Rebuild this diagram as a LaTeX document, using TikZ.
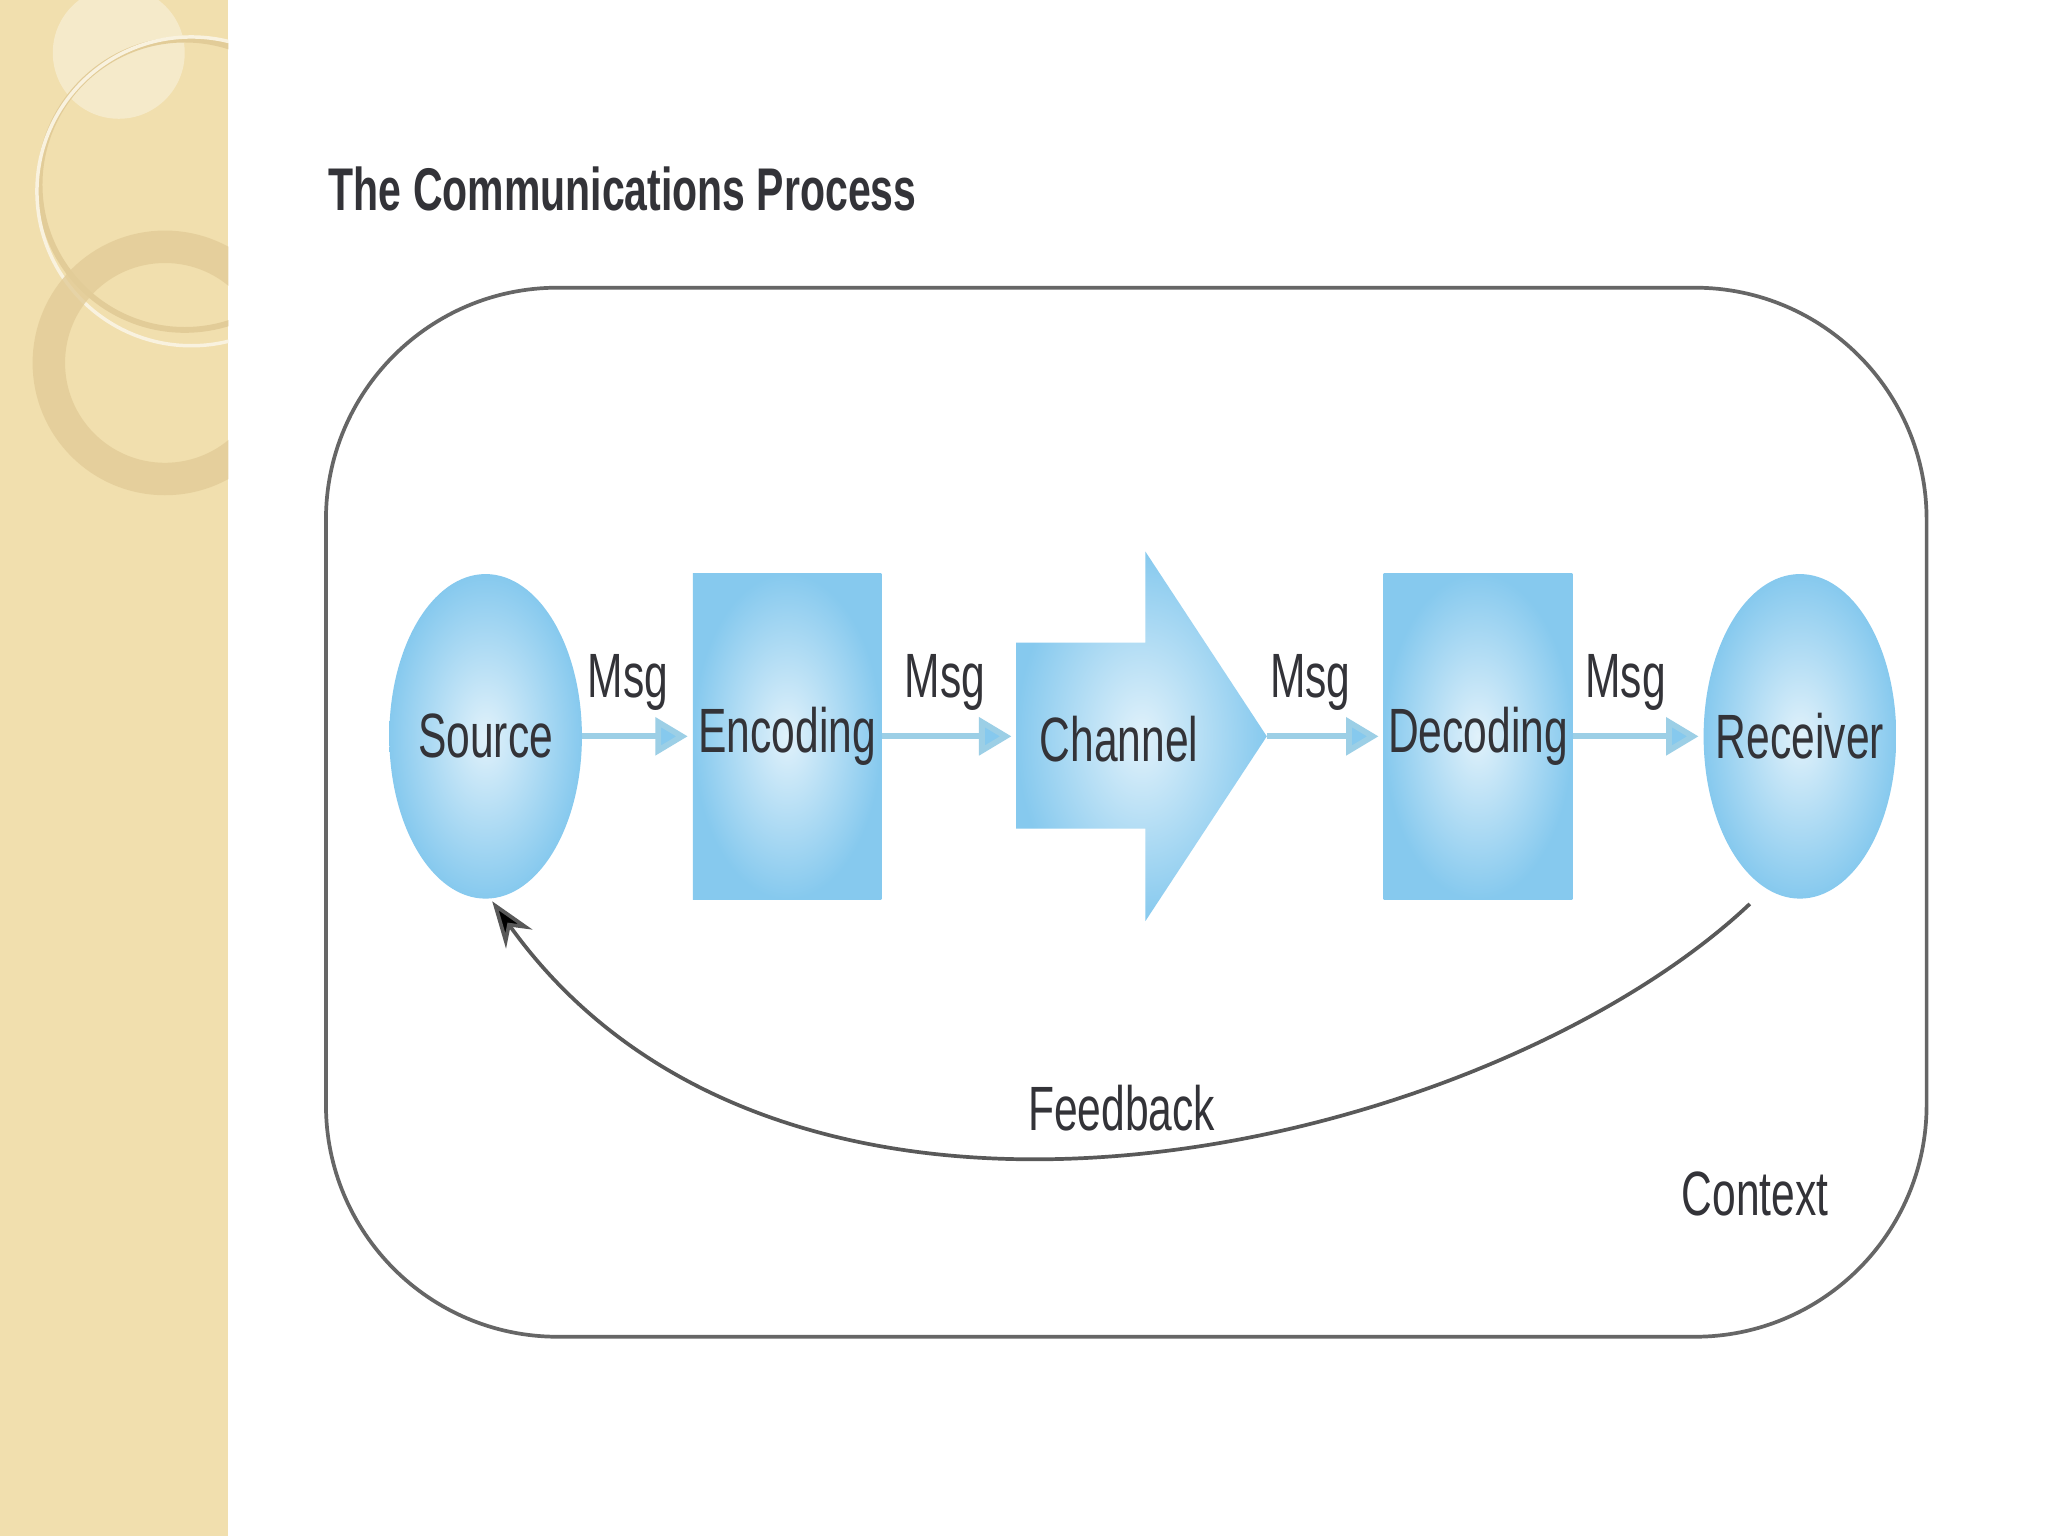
\documentclass[tikz,border=0pt]{standalone}
\usepackage{fontspec}
\setmainfont{Liberation Sans}
\newfontfamily\cond[FakeStretch=0.68]{Liberation Sans}
\usetikzlibrary{shapes.geometric,arrows.meta}
\definecolor{beige}{HTML}{F1DFAE}
\definecolor{ringc}{HTML}{E2CC98}
\definecolor{bl}{HTML}{86C9EE}
\definecolor{ln}{HTML}{9CCFE6}
\definecolor{txt}{HTML}{333338}
\tikzset{
  lbl/.style={font=\cond\fontsize{27}{30}\selectfont, text=txt},
  ball/.style={ellipse, minimum width=2.92cm, minimum height=4.92cm, inner color=white!75!bl, outer color=bl},
  boxs/.style={rectangle, minimum width=2.86cm, minimum height=4.94cm, inner color=white!75!bl, outer color=bl},
  msg/.style={draw=ln, line width=2.5pt, -{Triangle[length=14pt,width=16pt,fill=bl]}, shorten >=2pt},
}
\begin{document}
\begin{tikzpicture}[x=0.02cm,y=-0.02cm]
\useasboundingbox (0,0) rectangle (1552,1164);
\fill[white] (0,0) rectangle (1552,1164);
% left strip
\fill[beige] (0,0) rectangle (173,1164);
\begin{scope}
\clip (0,0) rectangle (173,1164);
\fill[white,opacity=0.35] (90,40) circle (50);
\draw[ringc,line width=2.5pt] (140,140) circle (110);
\draw[white!60!beige,line width=1.5pt] (145,145) circle (117);
\draw[ringc,line width=14pt,opacity=0.8] (125,275) circle (88);
\end{scope}
% title
\node[anchor=west, font=\cond\bfseries\fontsize{26}{30}\selectfont, text=txt] (title) at (243,143) {The Communications Process};
% context frame
\draw[gray!80!black, line width=1.6pt, rounded corners=100] (247,218) rectangle (1460,1013);
% nodes
\node[ball] (src) at (368,558) {};
\node[lbl] at (src) {Source};
\node[boxs] (enc) at (596.5,558) {};
\node[lbl] at (enc) {Encoding};
\shade[inner color=white!75!bl, outer color=bl] (770,487) -- (868,487) -- (868,418) -- (960,558) -- (868,698) -- (868,628) -- (770,628) -- cycle;
\coordinate (chl) at (770,558);
\coordinate (chr) at (960,558);
\node[lbl] (chan) at (848,560) {Channel};
\node[boxs] (dec) at (1120,558) {};
\node[lbl] at (dec) {Decoding};
\node[ball] (rec) at (1364,558) {};
\node[lbl] at (rec) {Receiver};
% arrows
\draw[msg] (src.east) -- (enc.west);
\draw[msg] (enc.east) -- (chl);
\draw[msg] (chr) -- (dec.west);
\draw[msg] (dec.east) -- (rec.west);
\node[lbl] (m1) at (476,517) {Msg};
\node[lbl] (m2) at (716,517) {Msg};
\node[lbl] (m3) at (993,517) {Msg};
\node[lbl] (m4) at (1232,517) {Msg};
% feedback
\coordinate (fbs) at (1326,685);
\coordinate (fbe) at (373,683);
\draw[gray!70!black, line width=1.6pt, -{Stealth[length=20pt,width=14pt,fill=black]}] (fbs) .. controls (1130,870) and (600,1000) .. (fbe);
\node[lbl] (fb) at (850,840) {Feedback};
\node[lbl] (ctx) at (1330,905) {Context};
\end{tikzpicture}
\end{document}
